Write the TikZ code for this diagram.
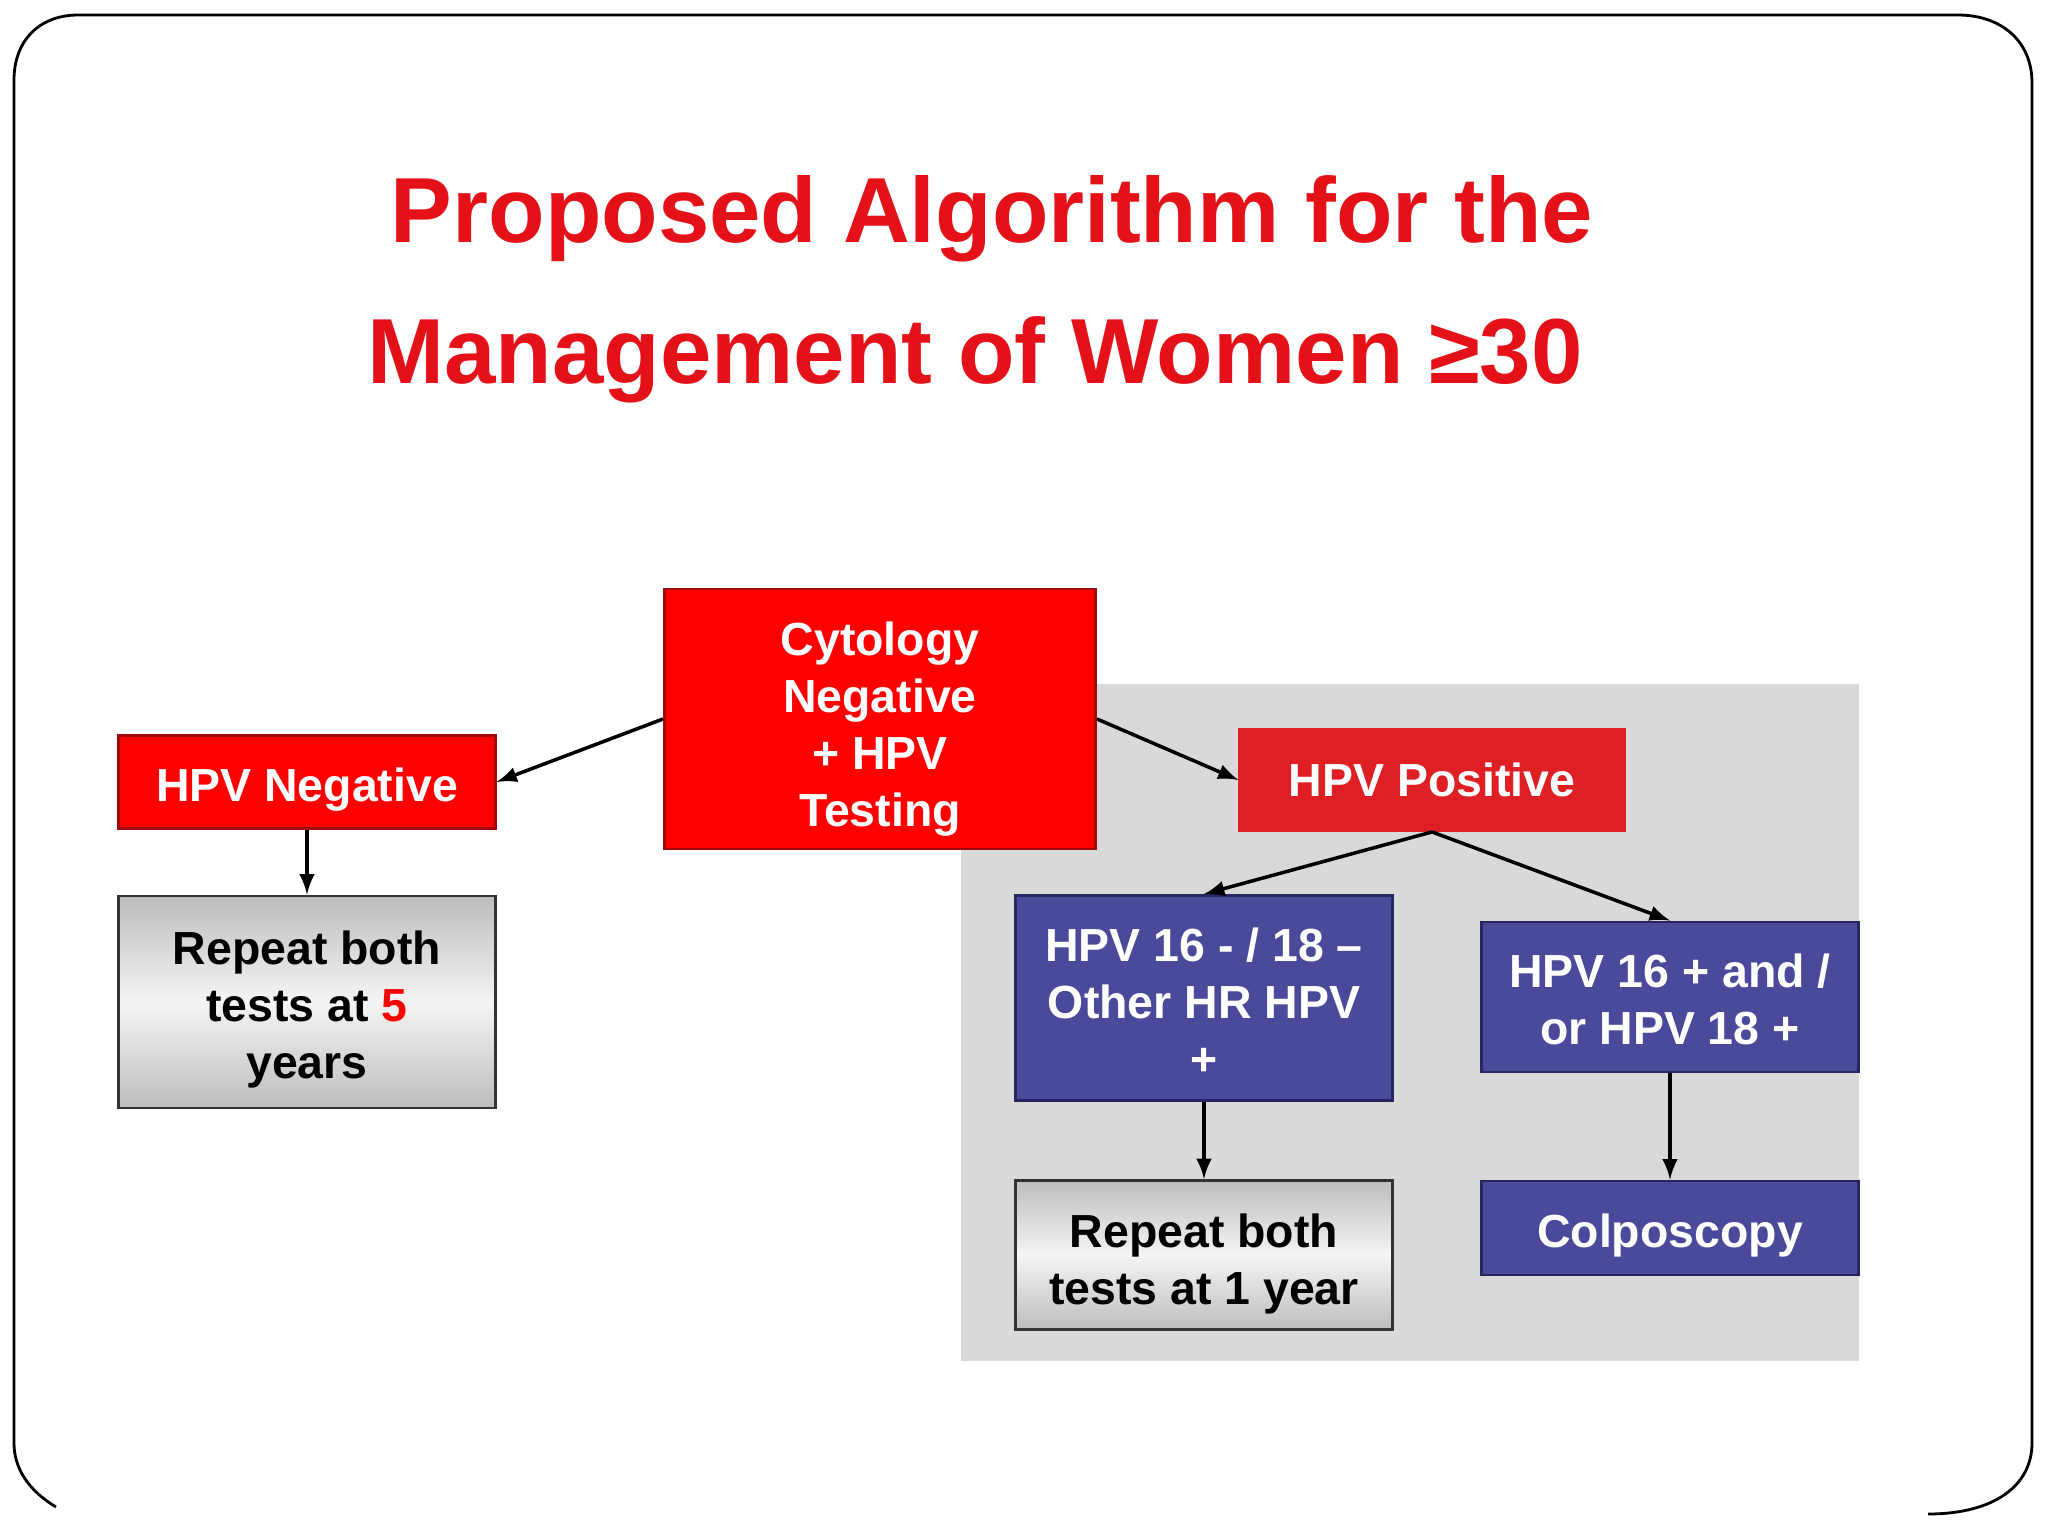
\documentclass[tikz,border=0pt]{standalone}
\usepackage{fontspec}
\setmainfont{Liberation Sans}
\usetikzlibrary{shapes,arrows}
\usepackage{color}

\definecolor{titlered}{RGB}{228,18,24}
\definecolor{boxred}{RGB}{255,0,0}
\definecolor{boxredline}{RGB}{160,10,10}
\definecolor{posred}{RGB}{222,32,36}
\definecolor{boxblue}{RGB}{74,73,154}
\definecolor{boxblueline}{RGB}{38,38,96}
\definecolor{panelgray}{RGB}{217,217,217}

\tikzset{
  lift/.style={execute at begin node={\rule{0pt}{#1}}},
  lift/.default=14pt,
  box/.style={rectangle, inner sep=0pt, align=center, line width=0.8pt,
    font=\fontsize{13.2}{16.2}\selectfont\bfseries},
  redbox/.style={box, fill=boxred, draw=boxredline, text=white},
  posbox/.style={box, fill=posred, draw=posred, text=white},
  bluebox/.style={box, fill=boxblue, draw=boxblueline, text=white},
  graybox/.style={box, draw=black!80, text=black, top color=black!26,
    bottom color=black!26, middle color=black!4},
  flow/.style={-latex, line width=1pt, black},
  titletext/.style={text=titlered, font=\fontsize{26.3}{30}\selectfont\bfseries}
}

\begin{document}
\begin{tikzpicture}[x=0.01cm, y=-0.01cm]
  \useasboundingbox (0,0) rectangle (2048,1536);
  % slide frame
  \draw[line width=0.8pt] (56,1507) .. controls (28,1490) and (14,1468) .. (14,1443)
    -- (14,80) .. controls (14,40) and (40,15) .. (78,15) -- (1958,15)
    .. controls (2000,15) and (2032,40) .. (2032,83) -- (2032,1443)
    .. controls (2032,1485) and (1995,1514) .. (1928,1514);

  % title
  \node[titletext, anchor=base] (title) at (992,242) {Proposed Algorithm for the};
  \node[titletext, anchor=base] (title2) at (975,383) {Management of Women ≥30};

  % panel
  \fill[panelgray] (961,684) rectangle (1859,1361);

  % boxes
  \node[redbox, lift=64pt, minimum width=4.31cm, minimum height=2.60cm] (cyto) at (880,719)
    {Cytology\\Negative\\+ HPV\\Testing};
  \node[redbox, lift, minimum width=3.76cm, minimum height=0.93cm] (hpvneg) at (307,782)
    {HPV Negative};
  \node[graybox, lift=46.4pt, minimum width=3.76cm, minimum height=2.12cm] (rep5) at (307,1002)
    {Repeat both\\tests at \textcolor{boxred}{5}\\years};
  \node[posbox, minimum width=3.84cm, minimum height=1.01cm] (hpvpos) at (1432,780)
    {HPV Positive};
  \node[bluebox, lift=43.9pt, minimum width=3.76cm, minimum height=2.05cm] (other) at (1204,998)
    {HPV 16 - / 18 --\\Other HR HPV\\+};
  \node[bluebox, lift=27.3pt, minimum width=3.77cm, minimum height=1.50cm] (type) at (1670,997)
    {HPV 16 + and /\\or HPV 18 +};
  \node[graybox, lift=31pt, minimum width=3.76cm, minimum height=1.49cm] (rep1) at (1204,1255)
    {Repeat both\\tests at 1 year};
  \node[bluebox, lift, minimum width=3.77cm, minimum height=0.94cm] (colpo) at (1670,1228)
    {Colposcopy};

  % arrows
  \draw[flow] (cyto.west) -- (hpvneg.east);
  \draw[flow] (cyto.east) -- (hpvpos.west);
  \draw[flow] (hpvneg.south) -- (rep5.north);
  \draw[flow] (hpvpos.south) -- (other.north);
  \draw[flow] (hpvpos.south) -- (type.north);
  \draw[flow] (other.south) -- (rep1.north);
  \draw[flow] (type.south) -- (colpo.north);
\end{tikzpicture}
\end{document}
